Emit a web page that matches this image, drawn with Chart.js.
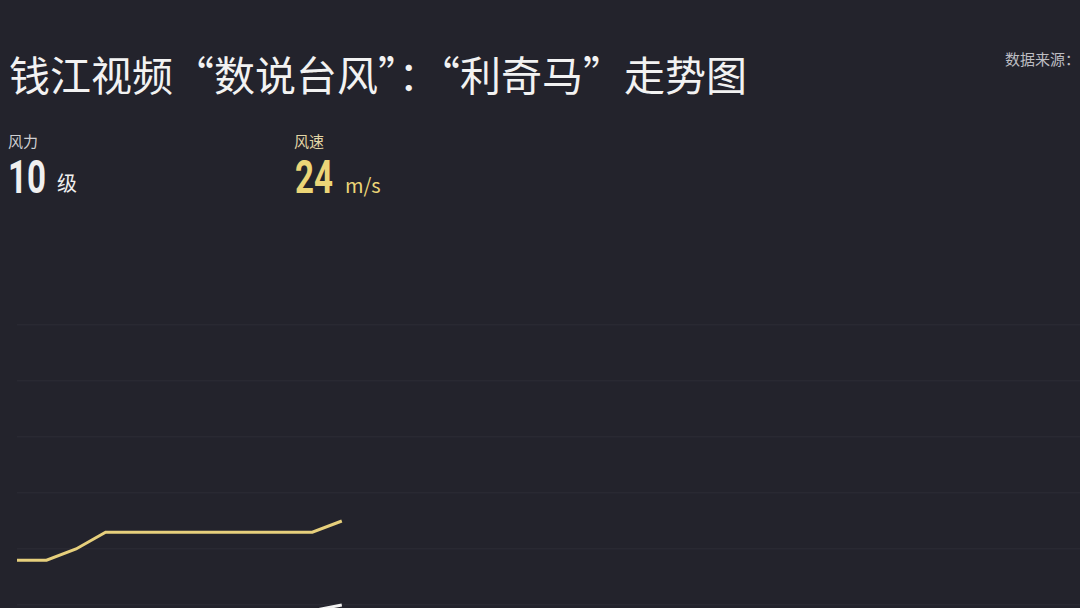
<!DOCTYPE html>
<html>
<head>
<meta charset="utf-8">
<script src="https://cdn.jsdelivr.net/npm/chart.js@4"></script>
<style>
  html, body {
    margin: 0;
    padding: 0;
    width: 1080px;
    height: 608px;
    overflow: hidden;
    background: #23232c;
    font-family: "Noto Sans CJK SC", "Noto Sans", sans-serif;
  }
  .abs {
    position: absolute;
    white-space: nowrap;
  }
  .title {
    left: 9px;
    top: 47px;
    font-size: 41px;
    line-height: 52px;
    color: #f2f2f2;
  }
  .source {
    left: 1005px;
    top: 49px;
    font-size: 15px;
    line-height: 20px;
    color: #bdbdc2;
  }
  .lbl {
    top: 131px;
    font-size: 15px;
    line-height: 20px;
  }
  .num {
    top: 154px;
    font-family: Roboto, "Noto Sans", sans-serif;
    font-weight: bold;
    font-size: 46px;
    line-height: 46px;
    transform: scaleX(0.72);
    transform-origin: 0 0;
  }
  .unit {
    top: 171px;
    font-size: 20px;
    line-height: 24px;
  }
  .white { color: #f0f0f0; }
  .gold { color: #ecd577; }
  #grid-wrap {
    position: absolute;
    left: 0;
    top: 300px;
    width: 1080px;
    height: 400px;
  }
</style>
</head>
<body>
<div class="abs title">钱江视频“数说台风”：“利奇马”走势图</div>
<div class="abs source">数据来源：</div>

<div class="abs lbl" style="left:8px;color:#cfcfd2">风力</div>
<div class="abs num white" style="left:8px">10</div>
<div class="abs unit white" style="left:57px">级</div>

<div class="abs lbl" style="left:294px;color:#e3d6a6">风速</div>
<div class="abs num gold" style="left:295px">24</div>
<div class="abs unit gold" style="left:345px;top:173px">m/s</div>

<div id="grid-wrap"><canvas id="chart"></canvas></div>
<script>
// 6-hourly track times
const times = [
  '8月4日08时', '8月4日14时', '8月4日20时', '8月5日02时', '8月5日08时', '8月5日14时',
  '8月5日20时', '8月6日02时', '8月6日08时', '8月6日14时', '8月6日20时', '8月7日02时',
  '8月7日08时', '8月7日14时', '8月7日20时', '8月8日02时', '8月8日08时', '8月8日14时',
  '8月8日20时', '8月9日02时', '8月9日08时', '8月9日14时', '8月9日20时', '8月10日02时',
  '8月10日08时', '8月10日14时', '8月10日20时', '8月11日02时', '8月11日08时', '8月11日14时',
  '8月11日20时', '8月12日02时', '8月12日08时', '8月12日14时', '8月12日20时', '8月13日02时',
  '8月13日08时'
];
// wind speed (m/s) and wind force (级) drawn so far
const windSpeed = [18, 18, 20, 23, 23, 23, 23, 23, 23, 23, 23, 25];
const windForce = [8, 8, 8, 9, 9, 9, 9, 9, 9, 9, 9, 10];
const yTicks = [0, 10, 20, 30, 40, 50, 60];

const ctx = document.getElementById('chart').getContext('2d');
new Chart(ctx, {
  type: 'line',
  data: {
    labels: times,
    datasets: [{
      data: windSpeed,
      borderColor: '#e6cf7c',
      borderWidth: 3,
      pointRadius: 0,
      tension: 0,
      fill: false
    }, {
      data: windForce,
      borderColor: '#f2f2f2',
      borderWidth: 3,
      pointRadius: 0,
      tension: 0,
      fill: false
    }]
  },
  options: {
    responsive: true,
    maintainAspectRatio: false,
    animation: false,
    layout: {
      padding: { top: 25, left: 17, right: 0, bottom: 39 }
    },
    plugins: {
      legend: { display: false },
      title: { display: false },
      tooltip: { enabled: false }
    },
    scales: {
      x: {
        display: false
      },
      y: {
        min: yTicks[0],
        max: yTicks[yTicks.length - 1],
        afterBuildTicks: axis => {
          axis.ticks = yTicks.map(v => ({ value: v }));
        },
        ticks: { display: false },
        border: { display: false },
        grid: {
          color: '#292932',
          lineWidth: 1.5,
          drawTicks: false
        }
      }
    }
  }
});
</script>
</body>
</html>
